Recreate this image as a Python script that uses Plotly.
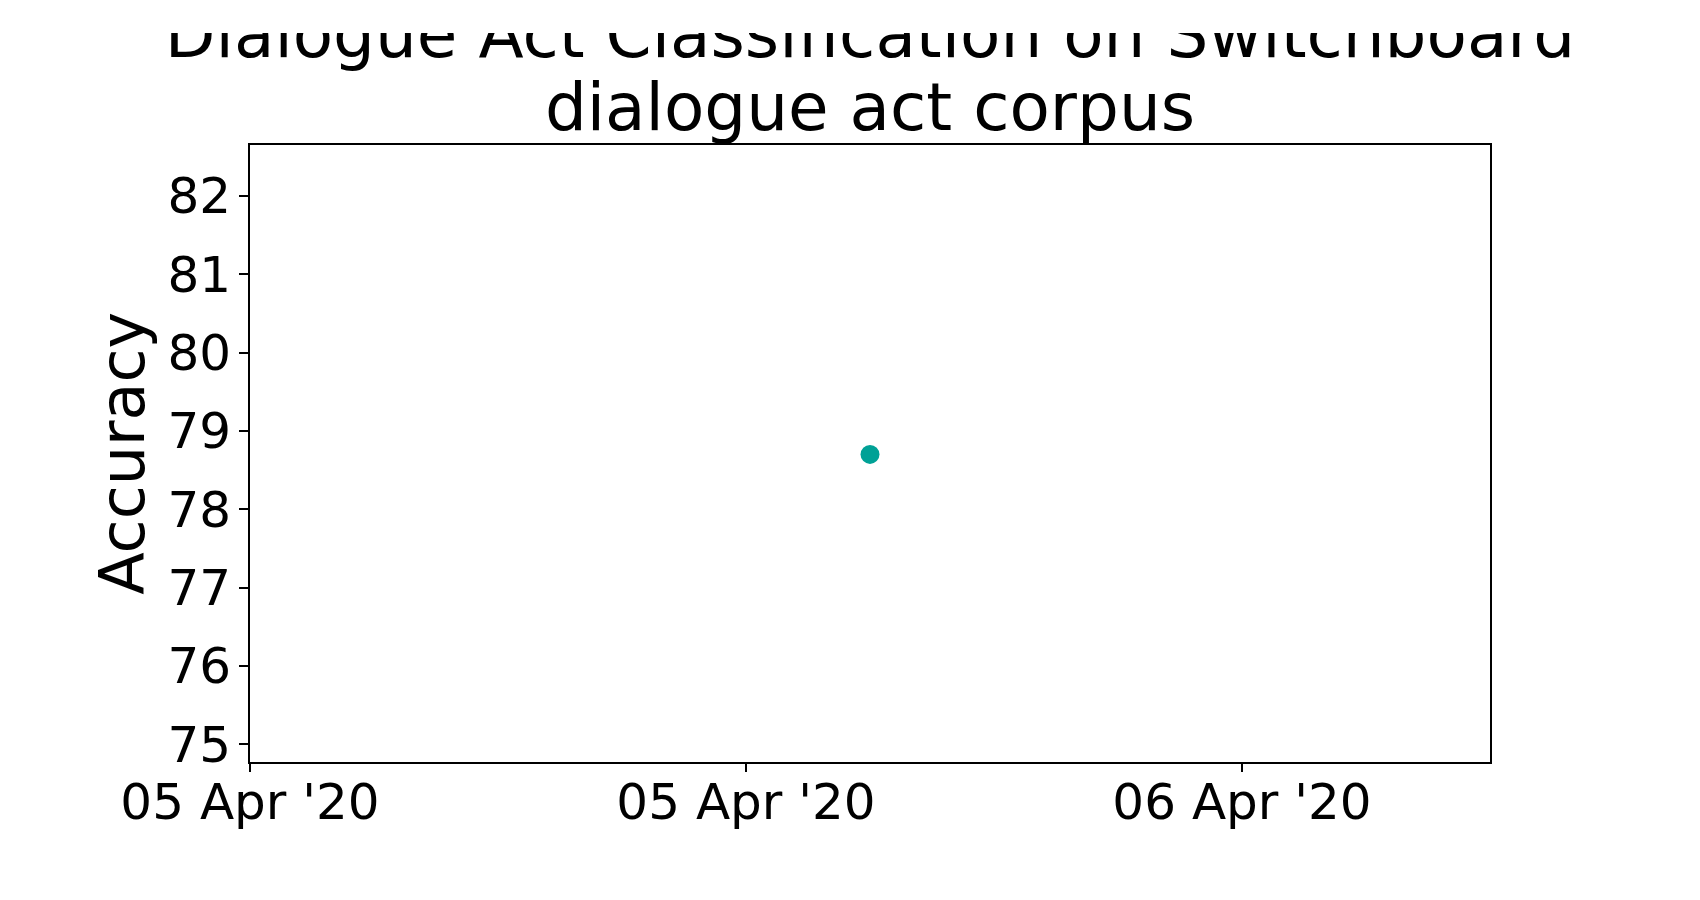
import plotly.graph_objects as go

# ---- data ----
dates = ["2020-04-05 15:00:00"]
accuracy = [78.7]
x_range = ["2020-04-05 00:00:00", "2020-04-06 06:00:00"]
y_range = [74.778, 82.651]
y_ticks = [75, 76, 77, 78, 79, 80, 81, 82]
title_lines = ["Dialogue Act Classification on Switchboard", "dialogue act corpus"]

# ---- layout constants (figure pixels) ----
W, H = 1700, 900
FONT = "DejaVu Sans"
PLOT_L, PLOT_R, PLOT_T, PLOT_B = 242, 1482, 137, 753.5
TITLE_CLIP_TOP = 25
TITLE_X = (PLOT_L + PLOT_R) / 2
TITLE_BASELINES = [49, 122]
TITLE_SIZE = 66

fig = go.Figure()
fig.add_trace(go.Scatter(
    x=dates, y=accuracy, mode="markers",
    marker=dict(color="#00A196", size=19, line=dict(width=0)),
    showlegend=False, hoverinfo="skip",
))

# Title drawn as text in an overlay band so that its top is clipped as in the reference
fig.add_trace(go.Scatter(
    x=[TITLE_X] * len(title_lines),
    y=[H - (b - 0.25 * TITLE_SIZE) for b in TITLE_BASELINES],
    text=title_lines, mode="text", textposition="middle center",
    textfont=dict(family=FONT, size=TITLE_SIZE, color="black"),
    xaxis="x2", yaxis="y2", cliponaxis=True,
    showlegend=False, hoverinfo="skip",
))

fig.update_layout(
    width=W, height=H,
    paper_bgcolor="white", plot_bgcolor="rgba(0,0,0,0)",
    margin=dict(l=0, r=0, t=0, b=0, autoexpand=False),
    font=dict(family=FONT, color="black"),
    xaxis=dict(
        domain=[PLOT_L / W, PLOT_R / W],
        type="date", range=x_range,
        tick0="2020-04-05 00:00:00", dtick=43200000,
        tickformat="%d %b '%y",
        showgrid=False, zeroline=False,
        showline=True, linecolor="black", linewidth=1.8, mirror=True,
        ticks="outside", ticklen=9, tickwidth=1.6, tickcolor="black",
        tickfont=dict(family=FONT, size=50, color="black"),
        ticklabelstandoff=-13,
    ),
    yaxis=dict(
        domain=[1 - PLOT_B / H, 1 - PLOT_T / H],
        range=y_range, tickvals=y_ticks,
        showgrid=False, zeroline=False,
        showline=True, linecolor="black", linewidth=1.8, mirror=True,
        ticks="outside", ticklen=9, tickwidth=1.6, tickcolor="black",
        tickfont=dict(family=FONT, size=50, color="black"),
        ticklabelstandoff=-2,
        title=dict(text="Accuracy", font=dict(family=FONT, size=62, color="black"), standoff=3),
    ),
    xaxis2=dict(
        domain=[0, 1], range=[0, W], anchor="y2",
        visible=False, fixedrange=True,
    ),
    yaxis2=dict(
        domain=[1 - PLOT_T / H, 1 - TITLE_CLIP_TOP / H],
        range=[H - PLOT_T, H - TITLE_CLIP_TOP], anchor="x2",
        visible=False, fixedrange=True,
    ),
)

fig.write_html("out.html")
